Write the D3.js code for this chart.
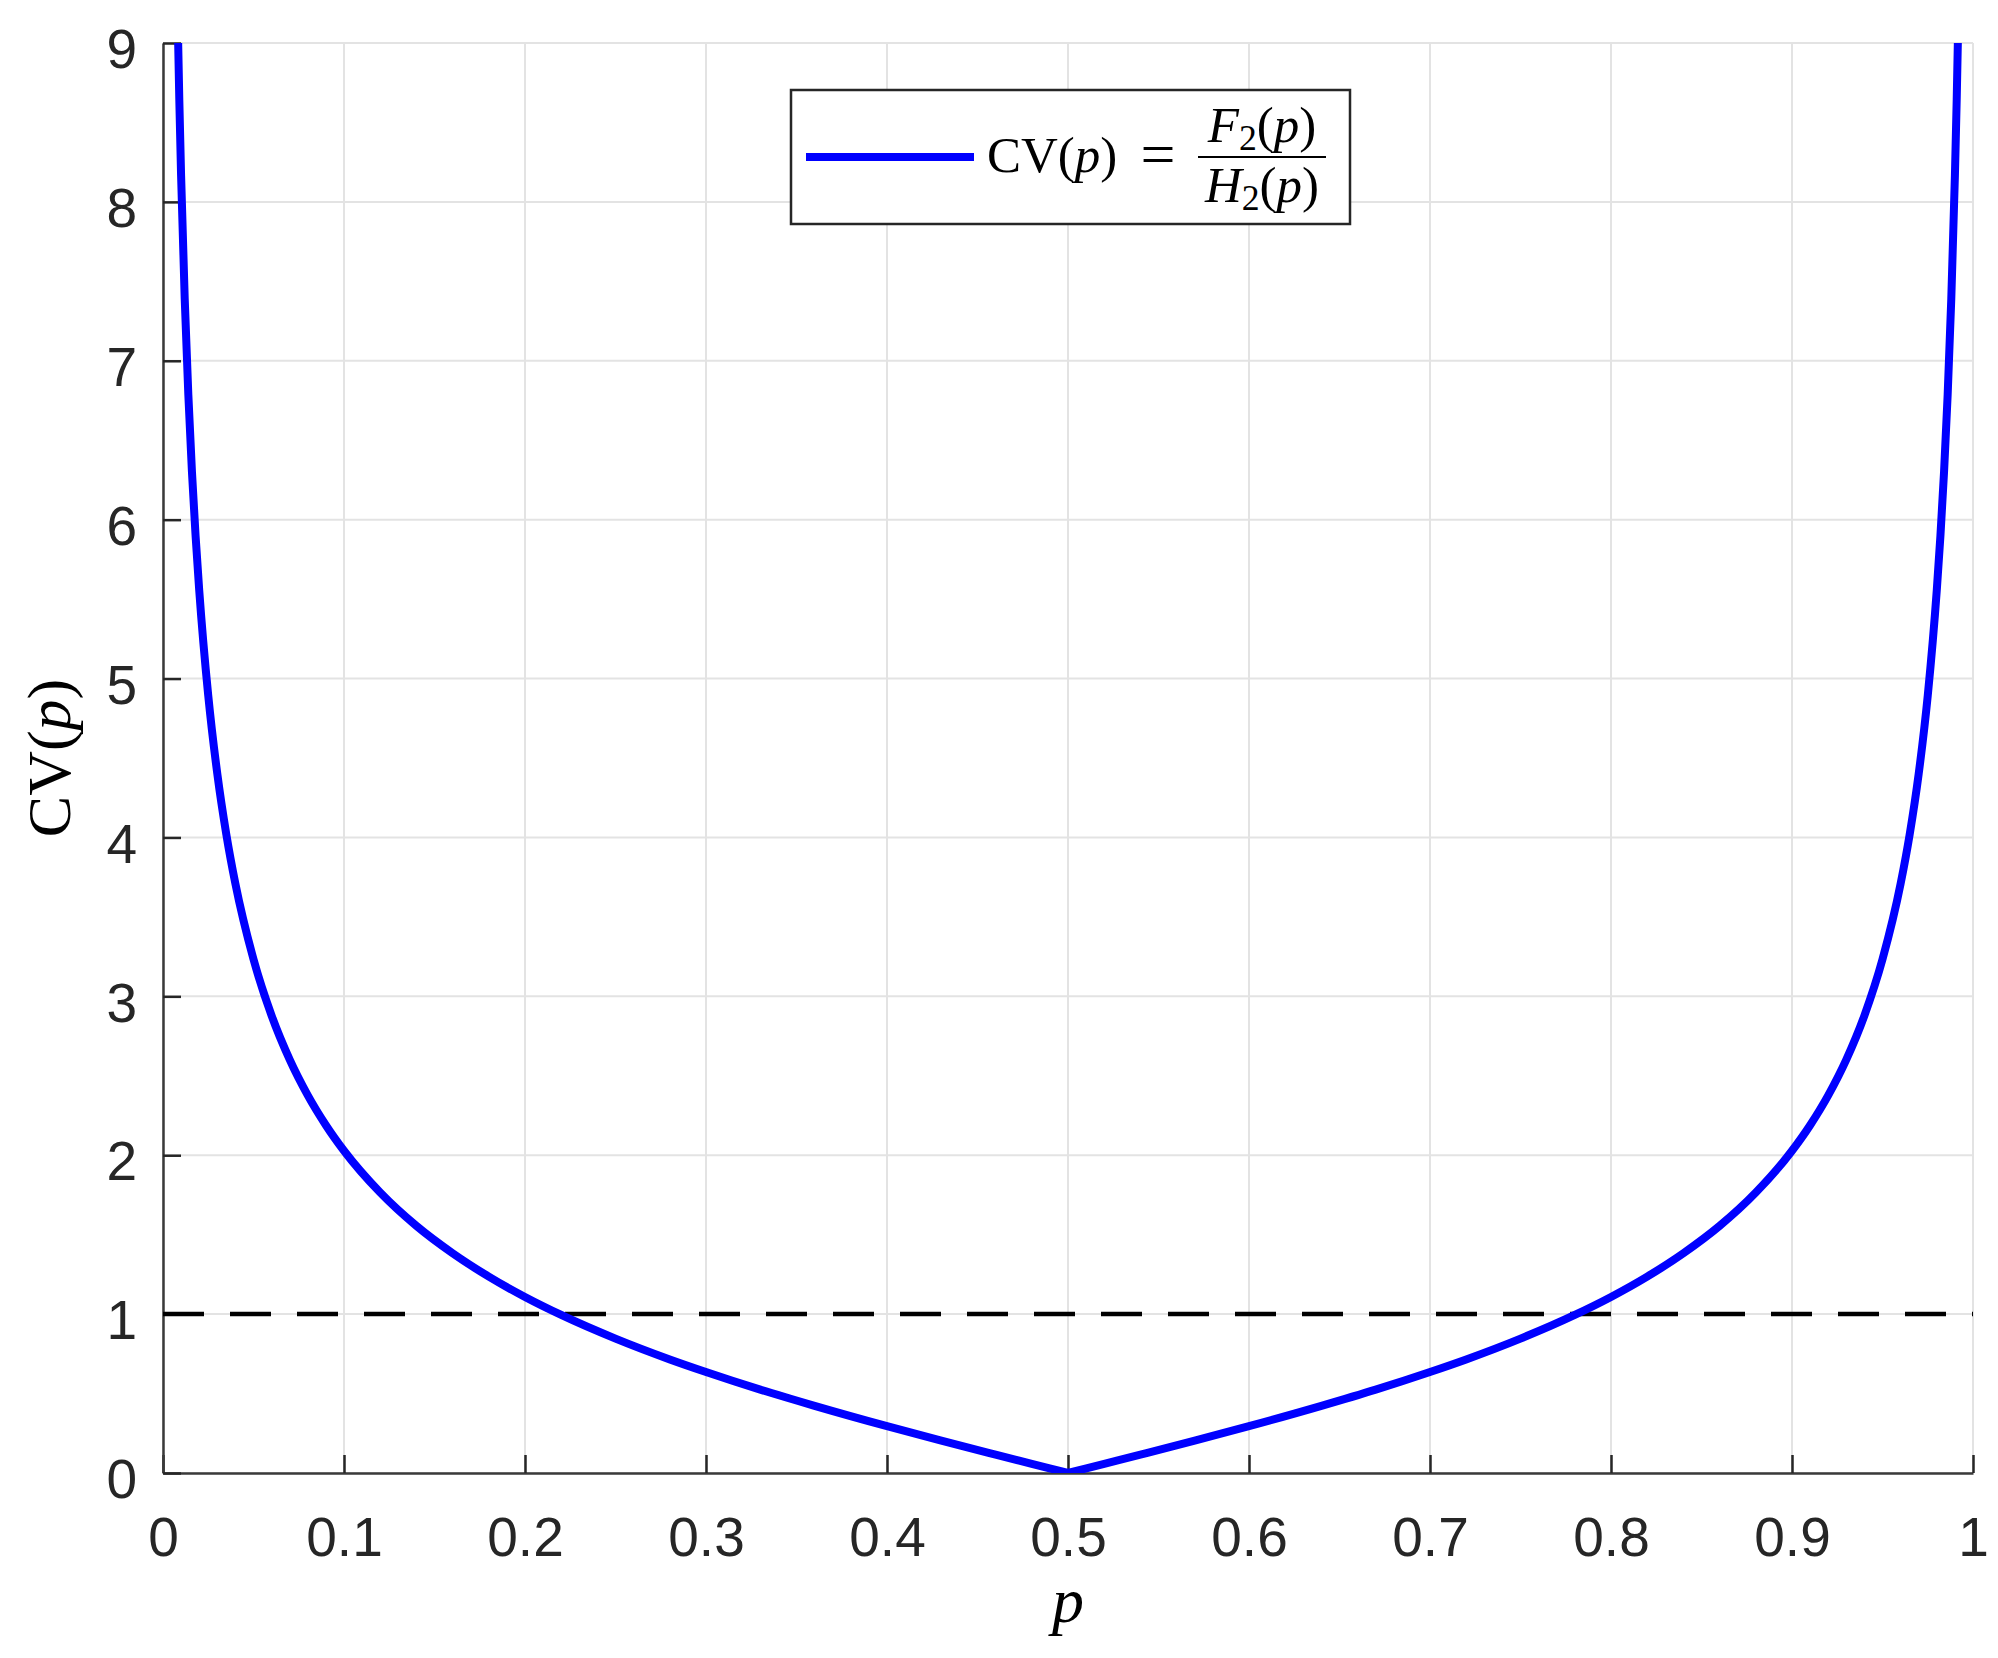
<!DOCTYPE html>
<html lang="en">
<head>
<meta charset="UTF-8">
<title>CV(p)</title>
<script src="https://d3js.org/d3.v7.min.js"></script>
<style>
  body { margin: 0; padding: 0; background: #fff; }
  svg { display: block; }
  .tick text { font-family: "Liberation Sans", Arial, sans-serif; font-size: 55px; fill: #262626; }
  .serif { font-family: "Liberation Serif", "Times New Roman", serif; fill: #000; }
</style>
</head>
<body>
<svg width="1998" height="1658"></svg>
<script>
// values
const pValues = [0.007, 0.008, 0.009, 0.010, 0.012, 0.014, 0.016, 0.018, 0.020, 0.025,
                 0.030, 0.035, 0.040, 0.050, 0.060, 0.070, 0.080, 0.090, 0.10, 0.12,
                 0.14, 0.16, 0.18, 0.20, 0.22, 0.25, 0.28, 0.30, 0.33, 0.36,
                 0.40, 0.43, 0.46, 0.48, 0.50,
                 0.52, 0.54, 0.57, 0.60, 0.64, 0.67, 0.70, 0.72, 0.75, 0.78,
                 0.80, 0.82, 0.84, 0.86, 0.88, 0.90, 0.91, 0.92, 0.93, 0.94,
                 0.95, 0.96, 0.965, 0.97, 0.975, 0.98, 0.982, 0.984, 0.986, 0.988,
                 0.990, 0.991, 0.992, 0.993];
const cvValues = [9.904, 9.216, 8.646, 8.164, 7.389, 6.786, 6.300, 5.898, 5.558, 4.893,
                  4.401, 4.018, 3.708, 3.233, 2.879, 2.602, 2.377, 2.189, 2.028, 1.765,
                  1.555, 1.383, 1.236, 1.108, 0.995, 0.846, 0.715, 0.636, 0.525, 0.423,
                  0.295, 0.204, 0.116, 0.058, 0,
                  0.058, 0.116, 0.204, 0.295, 0.423, 0.525, 0.636, 0.715, 0.846, 0.995,
                  1.108, 1.236, 1.383, 1.555, 1.765, 2.028, 2.189, 2.377, 2.602, 2.879,
                  3.233, 3.708, 4.018, 4.401, 4.893, 5.558, 5.898, 6.300, 6.786, 7.389,
                  8.164, 8.646, 9.216, 9.904];
const refLevel = 1;
const xTicks = [0, 0.1, 0.2, 0.3, 0.4, 0.5, 0.6, 0.7, 0.8, 0.9, 1];
const xTickLabels = ["0", "0.1", "0.2", "0.3", "0.4", "0.5", "0.6", "0.7", "0.8", "0.9", "1"];
const yTicks = [0, 1, 2, 3, 4, 5, 6, 7, 8, 9];
const yTickLabels = ["0", "1", "2", "3", "4", "5", "6", "7", "8", "9"];

const svg = d3.select("svg"),
      margin = {top: 43, right: 25, bottom: 185, left: 163},
      width = +svg.attr("width") - margin.left - margin.right,
      height = +svg.attr("height") - margin.top - margin.bottom,
      g = svg.append("g").attr("transform", `translate(${margin.left},${margin.top})`);

const x = d3.scaleLinear().domain([0, 1]).range([0, width]);
const y = d3.scaleLinear().domain([0, 9]).range([height, 0]);

// grid
g.append("g").selectAll("line").data(xTicks).join("line")
  .attr("x1", d => x(d)).attr("x2", d => x(d))
  .attr("y1", 0).attr("y2", height)
  .attr("stroke", "#e3e3e3").attr("stroke-width", 2);
g.append("g").selectAll("line").data(yTicks).join("line")
  .attr("x1", 0).attr("x2", width)
  .attr("y1", d => y(d)).attr("y2", d => y(d))
  .attr("stroke", "#e3e3e3").attr("stroke-width", 2);

// axes
const xAxis = g.append("g")
  .attr("transform", `translate(0,${height})`)
  .call(d3.axisBottom(x).tickValues(xTicks).tickFormat((d, i) => xTickLabels[i])
        .tickSize(-18).tickSizeOuter(0).tickPadding(44));
const yAxis = g.append("g")
  .call(d3.axisLeft(y).tickValues(yTicks).tickFormat((d, i) => yTickLabels[i])
        .tickSize(-18).tickSizeOuter(0).tickPadding(26));
yAxis.selectAll(".tick text").attr("dy", "0.45em");
[xAxis, yAxis].forEach(a => {
  a.select(".domain").attr("stroke", "#3a3a3a").attr("stroke-width", 2.5);
  a.selectAll(".tick line").attr("stroke", "#262626").attr("stroke-width", 2.5);
  a.attr("font-family", null).attr("font-size", null);
});

// clip to plot area
svg.append("defs").append("clipPath").attr("id", "plotclip")
  .append("rect").attr("width", width).attr("height", height);

// dashed reference line
g.append("line")
  .attr("clip-path", "url(#plotclip)")
  .attr("x1", x(0)).attr("x2", x(1))
  .attr("y1", y(refLevel)).attr("y2", y(refLevel))
  .attr("stroke", "#000").attr("stroke-width", 4.5)
  .attr("stroke-dasharray", "41,26");

// curve: two smooth halves joined at the cusp
const pts = pValues.map((p, i) => ({p: p, v: cvValues[i]}));
const line = d3.line().x(d => x(d.p)).y(d => y(d.v)).curve(d3.curveMonotoneX);
const leftD = line(pts.filter(d => d.p <= 0.5));
const rightD = line(pts.filter(d => d.p >= 0.5));
g.append("path")
  .attr("clip-path", "url(#plotclip)")
  .attr("d", leftD + rightD.slice(rightD.search(/[CL]/)))
  .attr("fill", "none")
  .attr("stroke", "#0000ff")
  .attr("stroke-width", 8)
  .attr("stroke-linejoin", "miter");

// axis labels
const yl = svg.append("text").attr("class", "serif")
  .attr("transform", `translate(70,${margin.top + height / 2}) rotate(-90)`)
  .attr("text-anchor", "middle")
  .style("font-size", "62px");
yl.append("tspan").text("CV(");
yl.append("tspan").style("font-style", "italic").text("p");
yl.append("tspan").text(")");

svg.append("text").attr("class", "serif")
  .attr("x", margin.left + x(0.5)).attr("y", 1622)
  .attr("text-anchor", "middle")
  .style("font-size", "64px").style("font-style", "italic")
  .text("p");

// legend
const leg = svg.append("g").attr("transform", "translate(791,90)");
leg.append("rect").attr("width", 559).attr("height", 134)
  .attr("fill", "#fff").attr("stroke", "#262626").attr("stroke-width", 2.5);
leg.append("line").attr("x1", 15).attr("x2", 183).attr("y1", 67).attr("y2", 67)
  .attr("stroke", "#0000ff").attr("stroke-width", 8);

function mathText(sel, parts) {
  parts.forEach(pt => {
    const t = sel.append("tspan").text(pt.t);
    if (pt.i) t.style("font-style", "italic");
    if (pt.sub) t.style("font-size", "0.7em").attr("dy", "0.22em");
    if (pt.back) t.attr("dy", "-0.154em");
  });
}
const lt = leg.append("text").attr("class", "serif")
  .attr("x", 196).attr("y", 82).style("font-size", "51px");
mathText(lt, [{t: "CV("}, {t: "p", i: true}, {t: ")"}]);
leg.append("text").attr("class", "serif")
  .attr("x", 367).attr("y", 85).attr("text-anchor", "middle")
  .style("font-size", "62px").text("=");
const num = leg.append("text").attr("class", "serif")
  .attr("x", 471).attr("y", 52).attr("text-anchor", "middle").style("font-size", "51px");
mathText(num, [{t: "F", i: true}, {t: "2", sub: true}, {t: "(", back: true}, {t: "p", i: true}, {t: ")"}]);
leg.append("line").attr("x1", 407).attr("x2", 535).attr("y1", 67).attr("y2", 67)
  .attr("stroke", "#000").attr("stroke-width", 2);
const den = leg.append("text").attr("class", "serif")
  .attr("x", 471).attr("y", 112).attr("text-anchor", "middle").style("font-size", "51px");
mathText(den, [{t: "H", i: true}, {t: "2", sub: true}, {t: "(", back: true}, {t: "p", i: true}, {t: ")"}]);
</script>
</body>
</html>
